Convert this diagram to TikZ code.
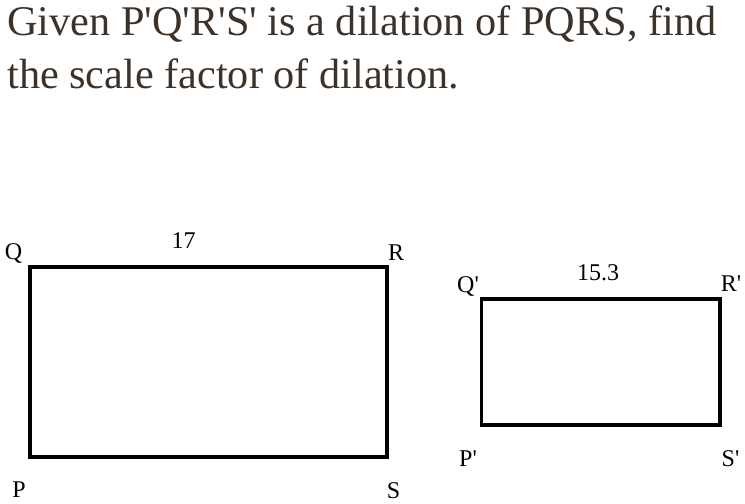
\documentclass[tikz,border=0pt]{standalone}
\usepackage{fontspec}
\setmainfont{Liberation Serif}[Ligatures=TeXOff]
\usepackage{xcolor}
\usepackage{tikz}
\usetikzlibrary{positioning,calc}
\definecolor{titlebrown}{RGB}{60,50,42}

\begin{document}
\begin{tikzpicture}[x=0.75pt, y=-0.75pt,
    side/.style={line width=2.4pt, line join=miter},
    corner/.style={font=\fontsize{18}{21}\selectfont, inner sep=0pt},
    heading/.style={font=\fontsize{31.7}{38}\selectfont, text=titlebrown, inner sep=0pt, anchor=base west}]
    \useasboundingbox (0,0) rectangle (745,503);
    % question text
    \node [heading] (line1) at (7,36) {Given P'Q'R'S' is a dilation of PQRS, find};
    \node [heading] (line2) at (7,89) {the scale factor of dilation.};
    % original figure PQRS
    \coordinate (P) at (30,457);
    \coordinate (Q) at (30,267);
    \coordinate (R) at (387,267);
    \coordinate (S) at (387,457);
    \draw [side] (P) -- (Q) -- (R) -- (S) -- cycle;
    \node [corner] (lP) at (19,490) {P};
    \node [corner] (lQ) at (13.5,253) {Q};
    \node [corner] (lR) at (396,252.5) {R};
    \node [corner] (lS) at (393.5,491) {S};
    \node [corner] (lQR) at (183.5,240.5) {17};
    % image P'Q'R'S'
    \coordinate (P1) at (481.5,425);
    \coordinate (Q1) at (481.5,299);
    \coordinate (R1) at (720,299);
    \coordinate (S1) at (720,425);
    \draw [side] (P1) -- (Q1) -- (R1) -- (S1) -- cycle;
    \node [corner] (lP1) at (468,458.5) {P'};
    \node [corner] (lQ1) at (468,286) {Q'};
    \node [corner] (lR1) at (731,284) {R'};
    \node [corner] (lS1) at (730.5,458.5) {S'};
    \node [corner] (lQR1) at (598,273) {15.3};
\end{tikzpicture}
\end{document}
